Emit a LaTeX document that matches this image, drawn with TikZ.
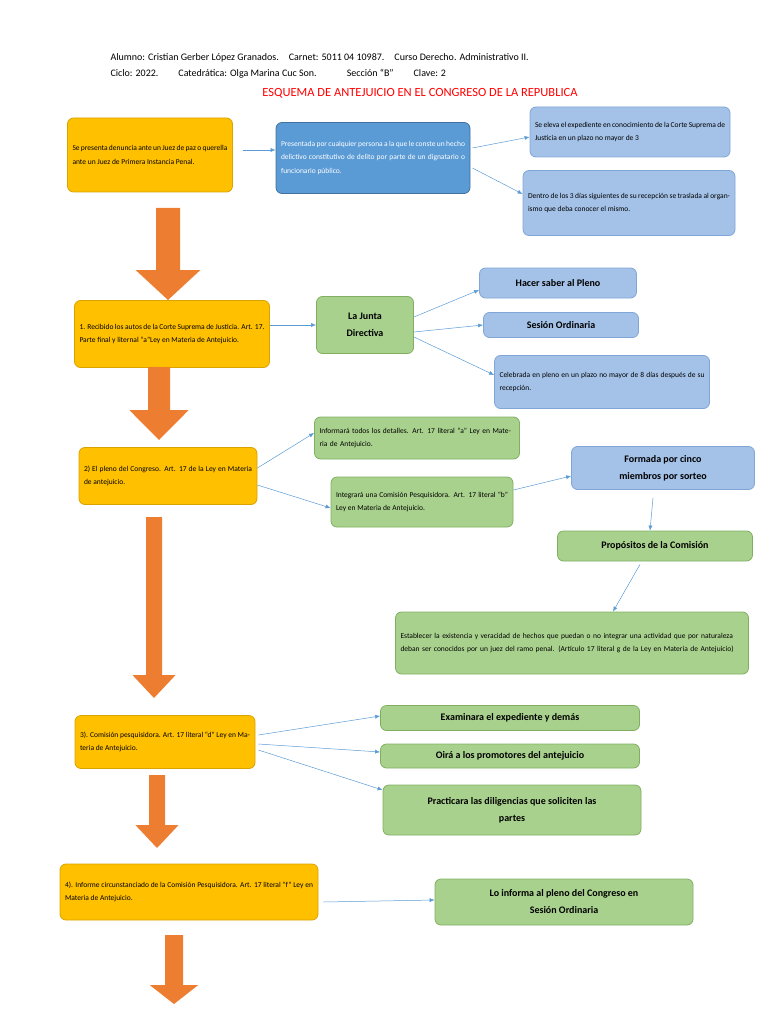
\documentclass[tikz,border=0pt]{standalone}
\usepackage{fontspec}
\setmainfont{Carlito}
\usetikzlibrary{positioning,arrows.meta}
\definecolor{amarillo}{HTML}{FFC000}
\definecolor{amarilloB}{HTML}{D9A300}
\definecolor{azulO}{HTML}{5B9BD5}
\definecolor{azulOB}{HTML}{41719C}
\definecolor{azulC}{HTML}{A4C2E8}
\definecolor{azulCB}{HTML}{7FA6D6}
\definecolor{verde}{HTML}{A9D18E}
\definecolor{verdeB}{HTML}{7FAF5F}
\definecolor{naranja}{HTML}{ED7D31}
\tikzset{
  caja/.style={rounded corners=6pt, line width=0.8pt, inner sep=5pt, align=justify,
    font=\fontsize{7.5}{13.5}\selectfont},
  paso/.style={caja, fill=amarillo, draw=amarilloB},
  azul/.style={caja, fill=azulO, draw=azulOB, text=white},
  celeste/.style={caja, fill=azulC, draw=azulCB},
  verdecaja/.style={caja, fill=verde, draw=verdeB},
  grande/.style={align=center, font=\fontsize{10}{17}\selectfont\bfseries},
  flecha/.style={-{Latex[length=5pt,width=4pt]}, draw=azulO, line width=0.5pt},
  gorda/.style={fill=naranja, draw=none}
}
\newcommand{\flechagorda}[5]{% x, y top, y head, y tip, shaft half width
  \fill[gorda] (#1-#5,#2) -- (#1+#5,#2) -- (#1+#5,#3) -- (#1+2.7*#5,#3) -- (#1,#4)
    -- (#1-2.7*#5,#3) -- (#1-#5,#3) -- cycle;}
\begin{document}
\begin{tikzpicture}[x=1pt,y=-1pt]
\useasboundingbox (0,0) rectangle (768,1024);

% Encabezado
\node[anchor=west, font=\fontsize{10}{12}\selectfont] (alumno) at (107,58)
  {Alumno: Cristian Gerber López Granados.\quad Carnet: 5011 04 10987.\quad Curso Derecho. Administrativo II.};
\node[anchor=west, font=\fontsize{10}{12}\selectfont] (ciclo) at (107,74)
  {Ciclo: 2022.\qquad Catedrática: Olga Marina\ Cuc Son.\qquad\quad Sección “B”\qquad Clave: 2};
\node[text=red, font=\fontsize{12.5}{14}\selectfont] (titulo) at (420,93)
  {ESQUEMA DE ANTEJUICIO EN EL CONGRESO DE LA REPUBLICA};

% Fila 0
\node[paso, text width=155pt, minimum height=74pt] (denuncia) at (150,155)
  {Se presenta denuncia ante un Juez de paz o querella ante un Juez de Primera Instancia Penal.};
\node[azul, text width=184pt, minimum height=71pt] (presentada) at (373,158)
  {Presentada por cualquier persona a la que le conste un hecho delictivo constitutivo de delito por parte de un dignatario o funcionario público.};
\node[celeste, text width=190pt, minimum height=50pt] (eleva) at (630,132)
  {Se eleva el expediente en conocimiento de la Corte Suprema de Justicia en un plazo no mayor de 3};
\node[celeste, text width=202pt, minimum height=65pt] (dentro) at (629,203)
  {Dentro de los 3 días siguientes de su recepción se traslada al organismo que deba conocer el mismo.};

% Paso 1
\node[paso, text width=185pt, minimum height=67pt] (recibido) at (172,334)
  {1. Recibido los autos de la Corte Suprema de Justicia. Art. 17. Parte final y liternal “a”Ley en Materia de Antejuicio.};
\node[verdecaja, grande, minimum width=97pt, minimum height=57pt] (junta) at (365,325)
  {La Junta\\Directiva};
\node[celeste, grande, minimum width=157pt, minimum height=30pt] (hacer) at (558,283)
  {Hacer saber al Pleno};
\node[celeste, grande, minimum width=155pt, minimum height=25pt] (sesion) at (561,325)
  {Sesión Ordinaria};
\node[celeste, text width=205pt, minimum height=53pt] (celebrada) at (602,382)
  {Celebrada en pleno en un plazo no mayor de 8 días después de su recepción.};

% Paso 2
\node[paso, text width=168pt, minimum height=57pt] (pleno) at (168,476)
  {2) El pleno del Congreso. Art. 17 de la Ley en Materia de antejuicio.};
\node[verdecaja, text width=195pt, minimum height=42pt, align=left] (informara) at (417,438)
  {Informará todos los detalles. Art. 17 literal “a” Ley en Materia de Antejuicio.};
\node[verdecaja, text width=172pt, minimum height=50pt] (integrara) at (422,502)
  {Integrará una Comisión Pesquisidora. Art. 17 literal “b” Ley en Materia de Antejuicio.};
\node[celeste, grande, minimum width=183pt, minimum height=43pt] (formada) at (663,468)
  {Formada por cinco\\miembros por sorteo};
\node[verdecaja, grande, minimum width=195pt, minimum height=30pt] (propositos) at (655,546)
  {Propósitos de la Comisión};
\node[verdecaja, text width=343pt, minimum height=62pt, align=left] (establecer) at (572,643)
  {Establecer la existencia y veracidad de hechos que puedan o no integrar una actividad que por naturaleza deban ser conocidos por un juez del ramo penal. (Artículo 17 literal g de la Ley en Materia de Antejuicio)};

% Paso 3
\node[paso, text width=170pt, minimum height=53pt] (comision) at (165,742)
  {3). Comisión pesquisidora. Art. 17 literal “d” Ley en Materia de Antejuicio.};
\node[verdecaja, grande, minimum width=259pt, minimum height=25pt] (examinara) at (510,718)
  {Examinara el expediente y demás};
\node[verdecaja, grande, minimum width=259pt, minimum height=24pt] (oira) at (510,756)
  {Oirá a los promotores del antejuicio};
\node[verdecaja, grande, minimum width=258pt, minimum height=50pt] (practicara) at (512,810)
  {Practicara las diligencias que soliciten las\\partes};

% Paso 4
\node[paso, text width=248pt, minimum height=56pt] (informe) at (189,892)
  {4). Informe circunstanciado de la Comisión Pesquisidora. Art. 17 literal “f” Ley en Materia de Antejuicio.};
\node[verdecaja, grande, minimum width=258pt, minimum height=46pt] (loinforma) at (564,902)
  {Lo informa al pleno del Congreso en\\Sesión Ordinaria};

% Flechas gordas
\flechagorda{168}{208}{270}{300}{12}
\flechagorda{159}{367}{410}{440}{11}
\flechagorda{154}{517}{675}{698}{8}
\flechagorda{157}{775}{825}{848}{8}
\flechagorda{174}{935}{985}{1004}{9}

% Conectores
\draw[flecha] (denuncia.east) ++(10,-5) coordinate (d0) -- (presentada.west |- d0);
\draw[flecha] (presentada.east) ++(2,-10) coordinate (p1) -- (eleva.west |- 0,137);
\draw[flecha] (presentada.east) ++(2,10) coordinate (p2) -- (dentro.west |- 0,194);
\draw[flecha] (recibido.east) ++(0,-9) -- (junta.west);
\draw[flecha] (junta.east) ++(0,-8) -- (hacer.west |- 0,290);
\draw[flecha] (junta.east) ++(0,7) -- (sesion.west);
\draw[flecha] (junta.east) ++(0,12) -- (celebrada.west |- 0,375);
\draw[flecha] (pleno.east) ++(0,-8) -- (informara.west |- 0,433);
\draw[flecha] (pleno.east) ++(0,9) -- (integrara.west |- 0,508);
\draw[flecha] (integrara.east) ++(0,-12) -- (formada.west |- 0,476);
\draw[flecha] (formada.south) ++(-10,8) -- (propositos.north -| 650,0);
\draw[flecha] (propositos.south) ++(-15,3) -- (establecer.north -| 613,0);
\draw[flecha] (comision.east) ++(3,-7) -- (examinara.west |- 0,716);
\draw[flecha] (comision.east) ++(3,2) -- (oira.west |- 0,752);
\draw[flecha] (comision.east) ++(3,8) -- (practicara.west |- 0,790);
\draw[flecha] (informe.east) ++(5,10) -- (loinforma.west |- 0,900);
\end{tikzpicture}
\end{document}
